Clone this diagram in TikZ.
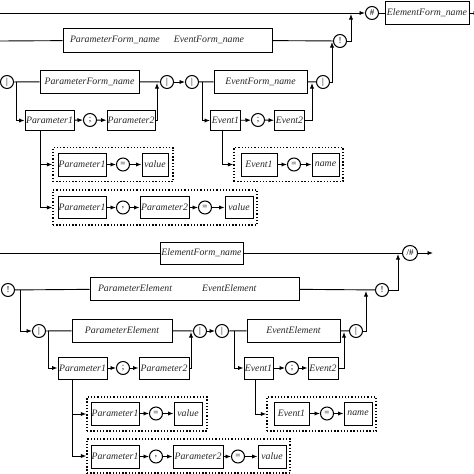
\documentclass[tikz,border=0pt]{standalone}
\usepackage{fontspec}
\setmainfont{Liberation Serif}
\usetikzlibrary{arrows.meta}
\newcommand\mybox[6]{\node[bx,minimum width=#4pt,minimum height=#5pt] (#1) at (#2,#3) {#6};}
\newcommand\mydot[5]{\node[dbox,minimum width=#4pt,minimum height=#5pt] (#1) at (#2,#3) {};}
\newcommand\mycirc[4]{\node[cc] (#1) at (#2,#3) {#4};}
\begin{document}
\begin{tikzpicture}[x=1pt,y=-1pt,
  line width=0.9pt,
  >={Latex[length=5.5pt,width=4.2pt]},
  bx/.style={draw, line width=1pt, rectangle, inner sep=0pt, text=black!85, font=\fontsize{9.8}{10}\selectfont\itshape},
  cc/.style={draw, line width=1pt, circle, minimum size=13pt, inner sep=0pt, font=\fontsize{9}{9}\selectfont},
  dbox/.style={draw, line width=1.3pt, dash pattern=on 1.3pt off 1.9pt, rectangle, inner sep=0pt},
]
\useasboundingbox (0,0) rectangle (474,474);

% ================= TOP =================
% row A
\coordinate (tA0) at (0,13);
\mycirc{hash}{372}{13}{\#}
\mybox{efn}{427}{13}{84}{23}{ElementForm\_name}
\coordinate (tEnd) at (479,13);
\draw[->] (tA0) -- (hash);
\draw (hash) -- (efn);
\draw[->] (efn) -- (tEnd);
% row B
\coordinate (tB0) at (0,41);
\node[bx,minimum height=24pt] (pe) at (167.5,40) {\makebox[209pt][l]{\hspace{7pt}ParameterForm\_name\hspace{14pt}EventForm\_name}};
\mycirc{ex1}{340}{41}{!}
\coordinate (jh) at (351,14);
\draw (tB0) -- (pe);
\draw (pe) -- (ex1);
\draw[->] (ex1) -| (jh);
% row C
\mycirc{L1}{7}{82}{|}
\mybox{pfn}{89.5}{81.5}{99}{23}{ParameterForm\_name}
\mycirc{M1}{167}{82}{|}
\mycirc{L2}{192}{82}{|}
\mybox{efn2}{260.5}{81.5}{93}{23}{EventForm\_name}
\mycirc{M2}{323}{82}{|}
\coordinate (je1) at (332,42);
\draw (L1) -- (pfn);
\draw (pfn) -- (M1);
\draw[->] (M1) -- (L2);
\draw (L2) -- (efn2);
\draw (efn2) -- (M2);
\draw[->] (M2) -| (je1);
% row D
\coordinate (b1) at (16,82);
\mybox{p1}{49.5}{120.5}{49}{20}{Parameter1}
\mycirc{s1}{90}{120}{;}
\mybox{p2}{131}{120.5}{48}{20}{Parameter2}
\coordinate (j3) at (157,83);
\draw[->] (b1) |- (p1);
\draw[->] (p1) -- (s1);
\draw[->] (s1) -- (p2);
\draw[->] (p2) -| (j3);
\coordinate (b2) at (202,82);
\mybox{e1}{225.5}{120.5}{30}{20}{Event1}
\mycirc{s2}{258}{120}{;}
\mybox{e2}{289.5}{120.5}{30}{20}{Event2}
\coordinate (j4) at (312,83);
\draw[->] (b2) |- (e1);
\draw[->] (e1) -- (s2);
\draw[->] (s2) -- (e2);
\draw[->] (e2) -| (j4);
% row E
\coordinate (b3) at (40,130.5);
\mydot{d1}{113}{164.5}{120}{34}
\mybox{q1}{82}{164.5}{48}{23}{Parameter1}
\mycirc{c1}{123}{164.5}{=}
\mybox{v1}{155}{164.5}{26}{23}{value}
\draw[->] (b3) |- (d1);
\draw[->] (q1) -- (c1);
\draw[->] (c1) -- (v1);
% row F
\mydot{d2}{155}{207.5}{204}{35}
\mybox{q2}{82}{207.5}{48}{22}{Parameter1}
\mycirc{c2}{123}{207.5}{,}
\mybox{q3}{164.5}{207.5}{49}{22}{Parameter2}
\mycirc{c3}{205}{207.5}{=}
\mybox{v2}{239}{207.5}{28}{22}{value}
\draw[->] (b3) |- (d2);
\draw[->] (q2) -- (c2);
\draw[->] (c2) -- (q3);
\draw[->] (q3) -- (c3);
\draw[->] (c3) -- (v2);
% event E
\coordinate (b4) at (222,130.5);
\mydot{d3}{288.5}{164.5}{109}{34}
\mybox{e3}{259}{164.5}{36}{23}{Event1}
\mycirc{c4}{294}{164.5}{=}
\mybox{n1}{325.5}{164.5}{27}{23}{name}
\draw[->] (b4) |- (d3);
\draw[->] (e3) -- (c4);
\draw[->] (c4) -- (n1);

% ================= BOTTOM =================
\coordinate (bA0) at (0,253);
\mybox{efn3}{201.5}{253}{83}{22}{ElementForm\_name}
\node[cc,minimum size=15pt] (sh) at (410,253) {/\#};
\coordinate (bEnd) at (433,253);
\draw (bA0) -- (efn3);
\draw (efn3) -- (sh);
\draw[->] (sh) -- (bEnd);
% row B'
\mycirc{X2}{8}{290}{!}
\node[bx,minimum height=23pt] (pe2) at (194.5,288.5) {\makebox[209pt][l]{\hspace{8pt}ParameterElement\hspace{30pt}EventElement}};
\mycirc{X3}{382}{290}{!}
\coordinate (j5) at (398,254);
\draw (X2) -- (pe2);
\draw (pe2) -- (X3);
\draw[->] (X3) -| (j5);
% row C'
\coordinate (b5) at (20,290);
\mycirc{L3}{39}{331}{|}
\mybox{pe3}{122}{330.5}{100}{23}{ParameterElement}
\mycirc{M3}{200}{331}{|}
\mycirc{L4}{222}{331}{|}
\mybox{ee3}{293.5}{330.5}{93}{23}{EventElement}
\mycirc{M4}{356}{331}{|}
\coordinate (j6) at (366,291);
\draw[->] (b5) |- (L3);
\draw (L3) -- (pe3);
\draw (pe3) -- (M3);
\draw[->] (M3) -- (L4);
\draw (L4) -- (ee3);
\draw (ee3) -- (M4);
\draw[->] (M4) -| (j6);
% row D'
\coordinate (b6) at (48,331);
\mybox{p4}{82.5}{368}{49}{22}{Parameter1}
\mycirc{s3}{123}{368}{;}
\mybox{p5}{164}{368}{50}{22}{Parameter2}
\coordinate (j7) at (191,332);
\draw[->] (b6) |- (p4);
\draw[->] (p4) -- (s3);
\draw[->] (s3) -- (p5);
\draw[->] (p5) -| (j7);
\coordinate (b7) at (234,331);
\mybox{e4}{258.5}{368}{29}{22}{Event1}
\mycirc{s4}{292}{368}{;}
\mybox{e5}{323}{368}{30}{22}{Event2}
\coordinate (j8) at (344,332);
\draw[->] (b7) |- (e4);
\draw[->] (e4) -- (s4);
\draw[->] (s4) -- (e5);
\draw[->] (e5) -| (j8);
% row E'
\coordinate (b8) at (72,379);
\mydot{d4}{147}{414}{120}{34}
\mybox{p6}{115}{413.5}{48}{23}{Parameter1}
\mycirc{c5}{156}{413.5}{=}
\mybox{v3}{188}{413.5}{28}{23}{value}
\draw[->] (b8) |- (d4);
\draw[->] (p6) -- (c5);
\draw[->] (c5) -- (v3);
% row F'
\mydot{d5}{188.5}{456}{203}{34}
\mybox{p7}{115}{456.5}{48}{23}{Parameter1}
\mycirc{c6}{156}{456.5}{,}
\mybox{p8}{198}{456.5}{50}{23}{Parameter2}
\mycirc{c7}{238}{456.5}{=}
\mybox{v4}{272}{456.5}{28}{23}{value}
\draw[->] (b8) |- (d5);
\draw[->] (p7) -- (c6);
\draw[->] (c6) -- (p8);
\draw[->] (p8) -- (c7);
\draw[->] (c7) -- (v4);
% event E'
\coordinate (b9) at (255,379);
\mydot{d6}{321.5}{414}{109}{34}
\mybox{e6}{291.5}{413.5}{35}{23}{Event1}
\mycirc{c8}{327}{413.5}{=}
\mybox{n2}{358}{413.5}{28}{23}{name}
\draw[->] (b9) |- (d6);
\draw[->] (e6) -- (c8);
\draw[->] (c8) -- (n2);
\end{tikzpicture}
\end{document}
